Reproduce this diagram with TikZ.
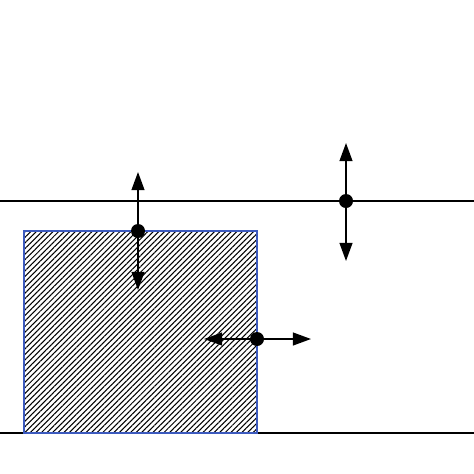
\documentclass[tikz,border=0pt]{standalone}
\usetikzlibrary{arrows.meta,patterns.meta}

\begin{document}
\begin{tikzpicture}[
    x=0.025cm, y=-0.025cm,
    wall/.style={line width=1.2pt},
    block/.style={draw={rgb,255:red,60;green,90;blue,190}, line width=0.8pt,
        pattern={Lines[angle=45, distance=2.8pt, line width=0.75pt]}},
    dot/.style={circle, fill=black, inner sep=0pt, minimum size=0.35cm},
    force/.style={line width=1.1pt, -{Triangle[length=0.45cm, width=0.32cm]}}
]
\useasboundingbox (0,0) rectangle (474,474);

\draw[wall] (0,201) -- (474,201);
\draw[wall] (0,433) -- (474,433);
\draw[block] (24,231) rectangle (257,433);

\node[dot] (top) at (138,231) {};
\node[dot] (wallpt) at (346,201) {};
\node[dot] (side) at (257,339) {};

\coordinate (topup) at (138,172);
\coordinate (topdown) at (138,290);
\coordinate (wallup) at (346,143);
\coordinate (walldown) at (346,261);
\coordinate (sideleft) at (204,339);
\coordinate (sideright) at (311,339);

\draw[force] (top) -- (topup);
\draw[force] (top) -- (topdown);
\draw[force] (wallpt) -- (wallup);
\draw[force] (wallpt) -- (walldown);
\draw[force] (side) -- (sideleft);
\draw[force] (side) -- (sideright);
\end{tikzpicture}
\end{document}
